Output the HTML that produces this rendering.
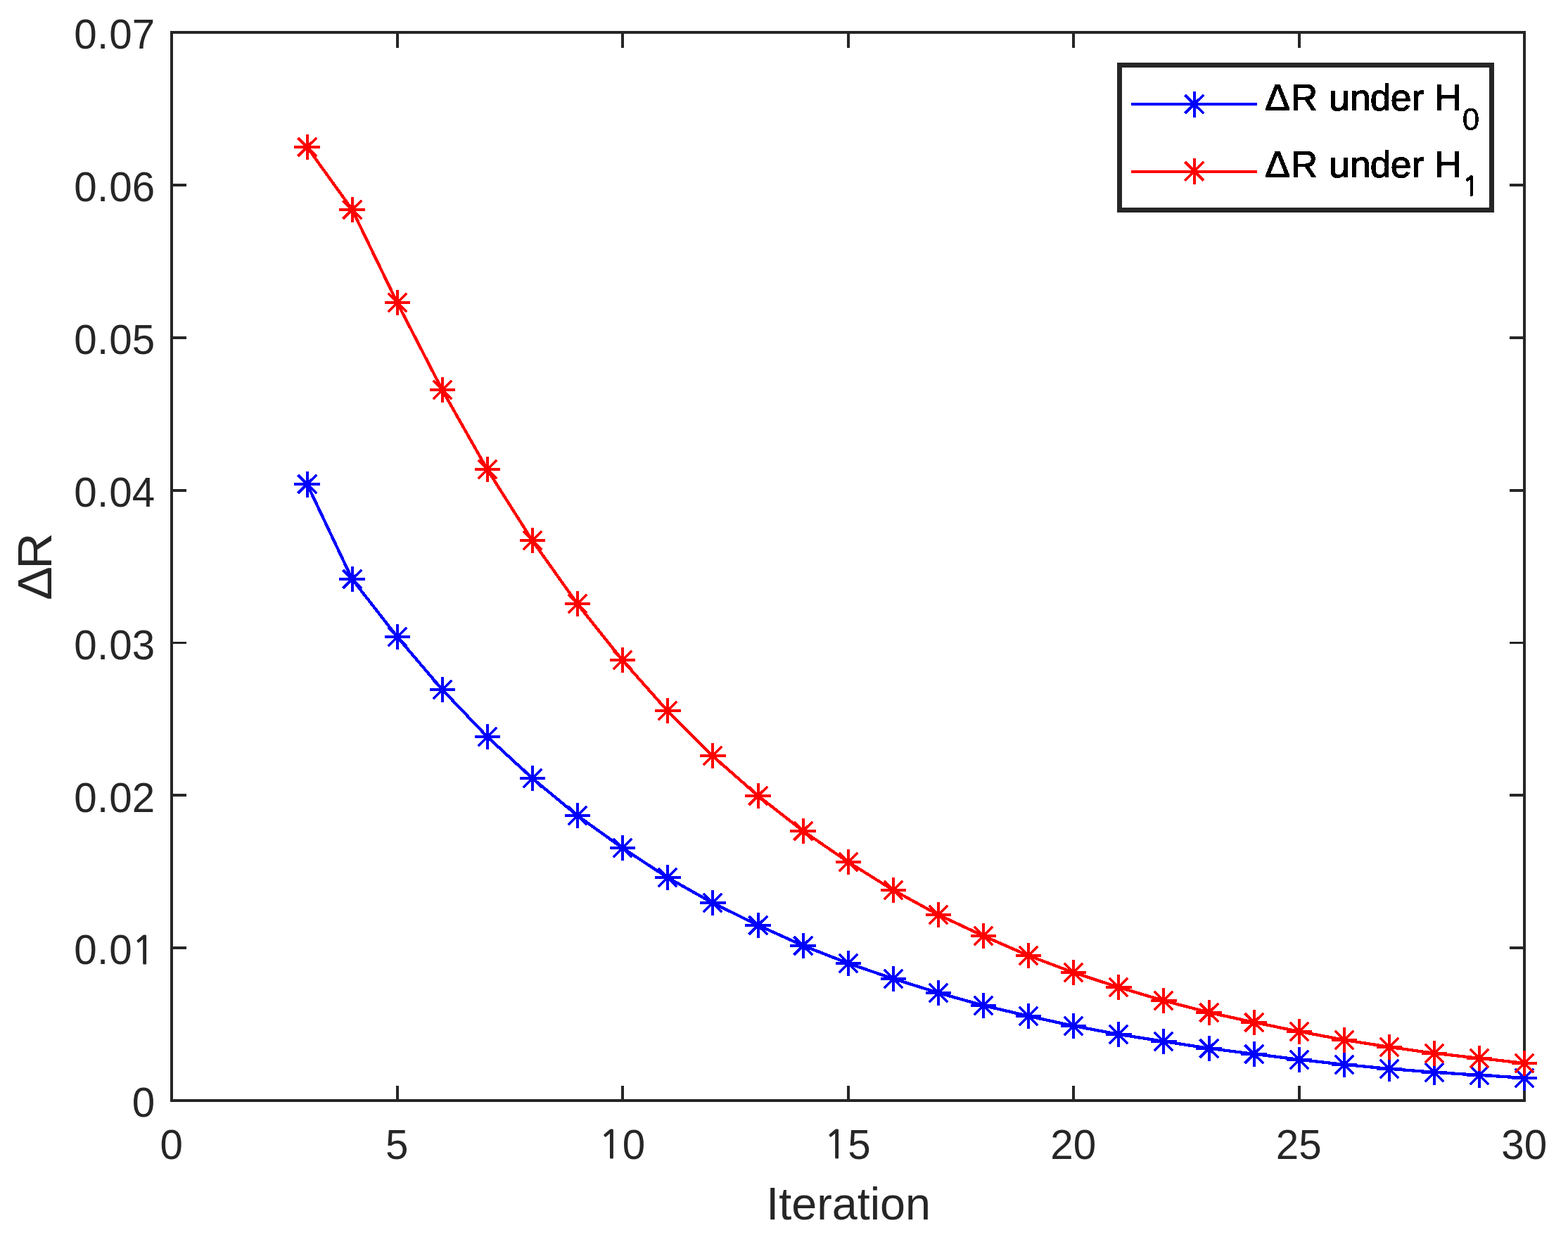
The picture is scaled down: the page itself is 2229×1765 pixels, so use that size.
<!DOCTYPE html>
<html lang="en">
<head>
<meta charset="utf-8">
<title>ΔR versus Iteration</title>
<style>
html,body{margin:0;padding:0;background:#fff}
body{width:2229px;height:1765px;overflow:hidden}
svg{display:block}
text{font-family:"Liberation Sans",sans-serif;white-space:pre}
.n1{font-family:"NanumGothic","Liberation Sans",sans-serif}
</style>
</head>
<body>
<svg xmlns="http://www.w3.org/2000/svg" width="2229" height="1765" viewBox="0 0 2229 1765">
<defs>
<path id="m" d="M-19 0H18M0 -18V19M-13.68 -13.08L13.08 13.08M-13.68 13.08L13.08 -13.08" fill="none"/>
<path id="m2" d="M-19 1H18M0 -18V19M-13.68 -13.08L13.08 13.68M-13.68 13.68L13.08 -13.08" fill="none"/>
<path id="ma" d="M-18 0H18M0 -18V18M-13.08 -13.08L13.08 13.08M-13.08 13.08L13.08 -13.08" fill="none"/>
<path id="mb" d="M-18 0H19M0 -18V18M-13.08 -13.08L13.08 13.08M-13.08 13.08L13.08 -13.08" fill="none"/>
<path id="mc" d="M-19 0H18M0 -18V18M-13.68 -13.08L13.08 13.08M-13.68 13.08L13.08 -13.08" fill="none"/>
</defs>
<rect width="2229" height="1765" fill="#fff"/>
<g id="axes" fill="#262626" shape-rendering="crispEdges">
<rect x="242" y="44" width="1927" height="4"/>
<rect x="242" y="1562" width="1927" height="4"/>
<rect x="242" y="44" width="4" height="1522"/>
<rect x="2165" y="44" width="4" height="1522"/>
<rect x="563" y="1543" width="4" height="21"/>
<rect x="563" y="46" width="4" height="22"/>
<rect x="883" y="1543" width="4" height="21"/>
<rect x="883" y="46" width="4" height="22"/>
<rect x="1204" y="1543" width="4" height="21"/>
<rect x="1204" y="46" width="4" height="22"/>
<rect x="1524" y="1543" width="4" height="21"/>
<rect x="1524" y="46" width="4" height="22"/>
<rect x="1845" y="1543" width="4" height="21"/>
<rect x="1845" y="46" width="4" height="22"/>
<rect x="244" y="1345" width="21" height="4"/>
<rect x="2146" y="1345" width="21" height="4"/>
<rect x="244" y="1128" width="21" height="4"/>
<rect x="2146" y="1128" width="21" height="4"/>
<rect x="244" y="912" width="21" height="3"/>
<rect x="2146" y="912" width="21" height="3"/>
<rect x="244" y="695" width="21" height="4"/>
<rect x="2146" y="695" width="21" height="4"/>
<rect x="244" y="478" width="21" height="4"/>
<rect x="2146" y="478" width="21" height="4"/>
<rect x="244" y="261" width="21" height="4"/>
<rect x="2146" y="261" width="21" height="4"/>
</g>
<g id="xticklabels" fill="#262626" font-size="58.33">
<text x="243.8" y="1647.2" text-anchor="middle">0</text>
<text x="564.3" y="1647.2" text-anchor="middle">5</text>
<text y="1646.45"><tspan class="n1" x="851.1" font-size="55" stroke="#262626" stroke-width="1">1</tspan><tspan x="884.8" dy="0.75">0</tspan></text>
<text y="1646.45"><tspan class="n1" x="1171.2" font-size="55" stroke="#262626" stroke-width="1">1</tspan><tspan x="1205.3" dy="0.75">5</tspan></text>
<text x="1525.8" y="1647.2" text-anchor="middle">20</text>
<text x="1846.3" y="1647.2" text-anchor="middle">25</text>
<text x="2166.8" y="1647.2" text-anchor="middle">30</text>
</g>
<g id="yticklabels" fill="#262626" font-size="58.33">
<text x="187.7" y="1587.3">0</text>
<text x="105.25 137.9 155.35" y="1370.44">0.0<tspan class="n1" x="187.15" dy="-0.75" font-size="55" stroke="#262626" stroke-width="1">1</tspan></text>
<text x="105.25 137.9 155.35 187.7" y="1153.59">0.02</text>
<text x="105.25 137.9 155.35 187.7" y="936.73">0.03</text>
<text x="105.25 137.9 155.35 187.7" y="719.87">0.04</text>
<text x="105.25 137.9 155.35 187.7" y="503.01">0.05</text>
<text x="105.25 137.9 155.35 187.7" y="286.16">0.06</text>
<text x="105.25 137.9 155.35 187.7" y="69.3">0.07</text>
</g>
<g id="axislabels" fill="#262626" font-size="64.7" text-anchor="middle">
<text x="1206.2" y="1733">Iteration</text>
<text transform="translate(73 853.1) rotate(-90) scale(1.11 1.06)" text-anchor="start" x="0 39.65">ΔR</text>
</g>
<g id="h0" stroke="#0000ff" stroke-width="4" fill="none" shape-rendering="crispEdges">
<polyline transform="translate(-0.5 -0.2)" stroke-width="4.3" points="437,688 501,823 565,905 629,980 693,1047 757,1106 821,1159 885,1205 949,1247 1013,1283 1078,1315 1142,1344 1206,1369 1270,1391 1334,1411 1398,1429 1462,1444 1526,1458 1590,1470 1654,1480 1719,1490 1783,1498 1847,1506 1911,1513 1975,1519 2039,1524 2103,1528 2167,1532"/>
<use href="#m" x="437" y="688"/>
<use href="#mc" x="501" y="823"/>
<use href="#ma" x="565" y="905"/>
<use href="#ma" x="629" y="980"/>
<use href="#ma" x="693" y="1047"/>
<use href="#ma" x="757" y="1106"/>
<use href="#ma" x="821" y="1159"/>
<use href="#ma" x="885" y="1205"/>
<use href="#mb" x="949" y="1247"/>
<use href="#mb" x="1013" y="1283"/>
<use href="#mc" x="1078" y="1315"/>
<use href="#mc" x="1142" y="1344"/>
<use href="#ma" x="1206" y="1369"/>
<use href="#ma" x="1270" y="1391"/>
<use href="#ma" x="1334" y="1411"/>
<use href="#ma" x="1398" y="1429"/>
<use href="#ma" x="1462" y="1444"/>
<use href="#ma" x="1526" y="1458"/>
<use href="#mb" x="1590" y="1470"/>
<use href="#mb" x="1654" y="1480"/>
<use href="#mc" x="1719" y="1490"/>
<use href="#mc" x="1783" y="1498"/>
<use href="#ma" x="1847" y="1506"/>
<use href="#ma" x="1911" y="1513"/>
<use href="#ma" x="1975" y="1519"/>
<use href="#ma" x="2039" y="1524"/>
<use href="#ma" x="2103" y="1528"/>
<use href="#ma" x="2167" y="1532"/>
</g>
<g id="h1" stroke="#ff0000" stroke-width="4" fill="none" shape-rendering="crispEdges">
<polyline transform="translate(-0.5 -0.2)" stroke-width="4.3" points="437,209 501,298 565,430 629,554 693,667 757,768 821,858 885,938 949,1010 1013,1074 1078,1131 1142,1181 1206,1225 1270,1265 1334,1300 1398,1330 1462,1358 1526,1382 1590,1403 1654,1422 1719,1439 1783,1453 1847,1466 1911,1478 1975,1488 2039,1497 2103,1504 2167,1511"/>
<use href="#mc" x="437" y="209"/>
<use href="#mc" x="501" y="298"/>
<use href="#ma" x="565" y="430"/>
<use href="#ma" x="629" y="554"/>
<use href="#ma" x="693" y="667"/>
<use href="#ma" x="757" y="768"/>
<use href="#ma" x="821" y="858"/>
<use href="#ma" x="885" y="938"/>
<use href="#mb" x="949" y="1010"/>
<use href="#mb" x="1013" y="1074"/>
<use href="#mc" x="1078" y="1131"/>
<use href="#mc" x="1142" y="1181"/>
<use href="#ma" x="1206" y="1225"/>
<use href="#ma" x="1270" y="1265"/>
<use href="#ma" x="1334" y="1300"/>
<use href="#ma" x="1398" y="1330"/>
<use href="#ma" x="1462" y="1358"/>
<use href="#ma" x="1526" y="1382"/>
<use href="#mb" x="1590" y="1403"/>
<use href="#mb" x="1654" y="1422"/>
<use href="#mc" x="1719" y="1439"/>
<use href="#mc" x="1783" y="1453"/>
<use href="#ma" x="1847" y="1466"/>
<use href="#ma" x="1911" y="1478"/>
<use href="#ma" x="1975" y="1488"/>
<use href="#ma" x="2039" y="1497"/>
<use href="#ma" x="2103" y="1504"/>
<use href="#ma" x="2167" y="1511"/>
</g>
<g id="legend">
<rect x="1591.5" y="92.5" width="529" height="206" fill="#fff" stroke="#262626" stroke-width="7" shape-rendering="crispEdges"/>
<g stroke="#0000ff" stroke-width="4" fill="none" shape-rendering="crispEdges"><path d="M1608 148H1787"/><use href="#m" x="1698" y="148"/></g>
<g stroke="#ff0000" stroke-width="4" fill="none" shape-rendering="crispEdges"><path d="M1608 244H1787"/><use href="#m2" x="1698" y="243"/></g>
<filter id="crisp" filterUnits="userSpaceOnUse" x="1790" y="100" width="325" height="195" color-interpolation-filters="sRGB"><feComponentTransfer><feFuncA type="discrete" tableValues="0 1"/></feComponentTransfer></filter>
<g fill="#000" stroke="#000" stroke-width="1.2" stroke-linejoin="round" font-size="53.3" filter="url(#crisp)">
<text x="1798.3" y="157.4" dx="0 0.8 0 0.9 0.3 -0.7 -0.8 0.3 0 0.4">ΔR under H<tspan font-size="44" dx="0.7" dy="27.2" stroke-width="0.3">0</tspan></text>
<text x="1798.3" y="252" dx="0 0.8 0 0.9 0.3 -0.7 -0.8 0.3 0 0.4">ΔR under H<tspan class="n1" x="2079.5" dy="25.85" font-size="37" stroke-width="1.8" stroke-linejoin="miter">1</tspan></text>
</g>
</g>
</svg>
</body>
</html>
